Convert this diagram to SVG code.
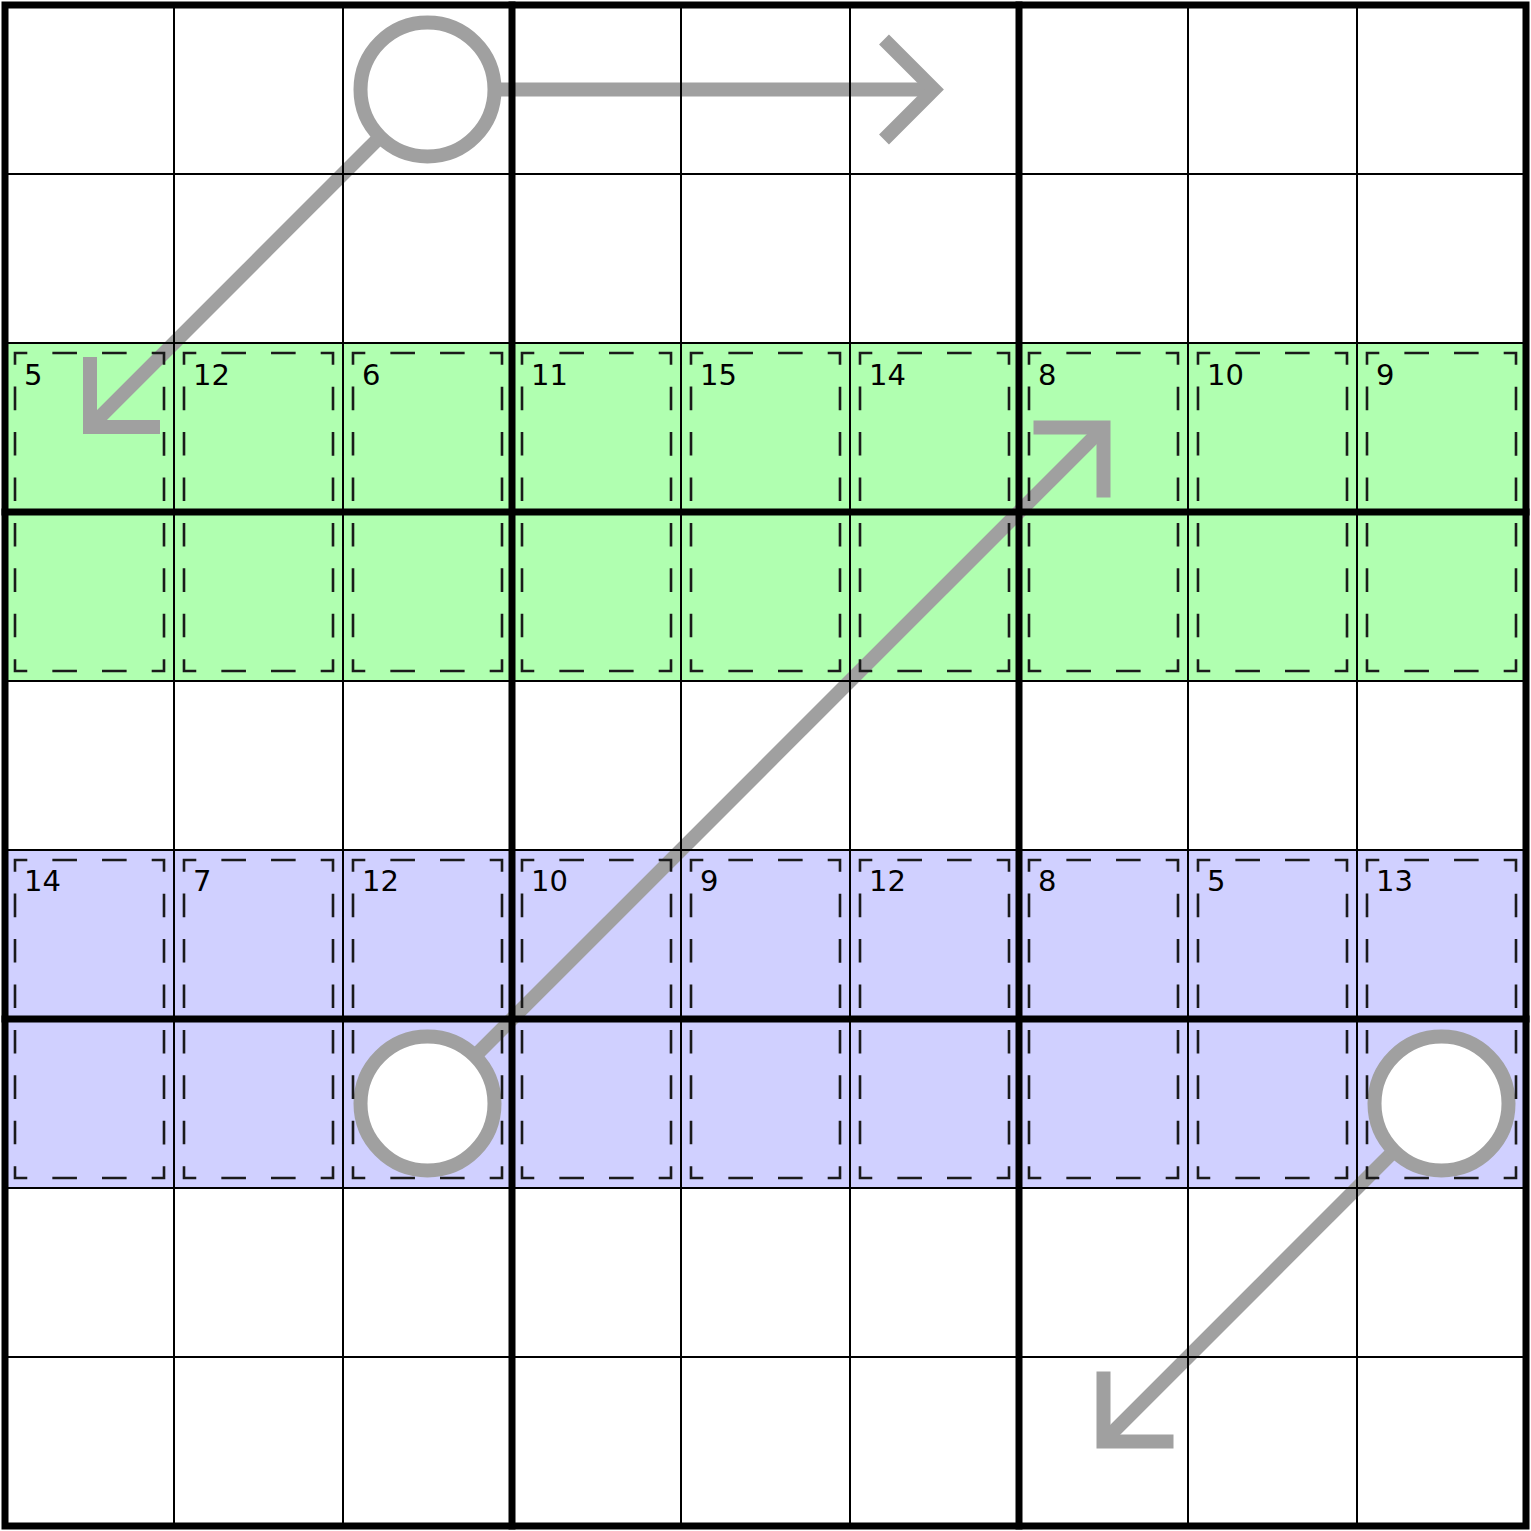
<svg xmlns="http://www.w3.org/2000/svg" width="1531" height="1531" viewBox="0 0 1531 1531">
  <style>
    .thin { stroke: #000; stroke-width: 2; fill: none; }
    .thick { stroke: #000; stroke-width: 7; fill: none; stroke-linecap: square; }
    .arrow { stroke: #a0a0a0; stroke-width: 14; fill: none; stroke-linejoin: miter; stroke-miterlimit: 10; }
    .bulb { stroke: #a0a0a0; stroke-width: 14; fill: #ffffff; }
    .cage { stroke: #1a1a1a; stroke-width: 2.6; fill: none; stroke-linecap: square;
            stroke-dasharray: 11 27.67 22 27.67 22 27.67 21.5 24.43 21 24.43 21 24.43 21 24.43 21 24.43 21 24.43 21 24.43 21.5 27.67 22 27.67 22 27.67 21.5 24.43 21 24.43 21 24.43 21 24.43 21 24.43 21 24.43 21 24.43 10.5 0; }
    .num { font-family: "DejaVu Sans", Verdana, sans-serif; font-size: 29px; fill: #000; }
  </style>
  <defs>
    <path id="cageShape" class="cage" d="M0 0 h149 v318 h-149 Z"/>
  </defs>
  <rect x="0" y="0" width="1531" height="1531" fill="#ffffff"/>

  <g id="fills">
    <rect x="5" y="343" width="1521" height="338" fill="#b0ffb0"/>
    <rect x="5" y="850" width="1521" height="338" fill="#d0d0ff"/>
  </g>

  <g id="connectors">
    <line class="arrow" x1="427.5" y1="89.5" x2="934" y2="89.5"/>
    <polyline class="arrow" points="884,39.5 934,89.5 884,139.5"/>
    <line class="arrow" x1="427.5" y1="89.5" x2="90" y2="427"/>
    <polyline class="arrow" points="90,357 90,427 160,427"/>
    <line class="arrow" x1="427.5" y1="1103.5" x2="1103.5" y2="427.5"/>
    <polyline class="arrow" points="1033.5,427.5 1103.5,427.5 1103.5,497.5"/>
    <line class="arrow" x1="1441.5" y1="1103.5" x2="1103.5" y2="1441.5"/>
    <polyline class="arrow" points="1103.5,1371.5 1103.5,1441.5 1173.5,1441.5"/>
  </g>

  <g id="bulb-top"><circle class="bulb" cx="427.5" cy="89.5" r="67"/></g>
  <g id="bulb-bottom-left"><circle class="bulb" cx="427.5" cy="1103.5" r="67"/></g>
  <g id="bulb-bottom-right"><circle class="bulb" cx="1441.5" cy="1103.5" r="67"/></g>

  <g id="cages-green">
    <use href="#cageShape" x="15" y="353"/>
    <use href="#cageShape" x="184" y="353"/>
    <use href="#cageShape" x="353" y="353"/>
    <use href="#cageShape" x="522" y="353"/>
    <use href="#cageShape" x="691" y="353"/>
    <use href="#cageShape" x="860" y="353"/>
    <use href="#cageShape" x="1029" y="353"/>
    <use href="#cageShape" x="1198" y="353"/>
    <use href="#cageShape" x="1367" y="353"/>
  </g>
  <g id="cages-blue">
    <use href="#cageShape" x="15" y="860"/>
    <use href="#cageShape" x="184" y="860"/>
    <use href="#cageShape" x="353" y="860"/>
    <use href="#cageShape" x="522" y="860"/>
    <use href="#cageShape" x="691" y="860"/>
    <use href="#cageShape" x="860" y="860"/>
    <use href="#cageShape" x="1029" y="860"/>
    <use href="#cageShape" x="1198" y="860"/>
    <use href="#cageShape" x="1367" y="860"/>
  </g>

  <g id="grid-thin">
    <path class="thin" d="M174 5 V1526 M343 5 V1526 M681 5 V1526 M850 5 V1526 M1188 5 V1526 M1357 5 V1526 M5 174 H1526 M5 343 H1526 M5 681 H1526 M5 850 H1526 M5 1188 H1526 M5 1357 H1526"/>
  </g>
  <g id="grid-thick">
    <path class="thick" d="M512 5 V1526 M1019 5 V1526 M5 512 H1526 M5 1019 H1526"/>
    <rect class="thick" x="5" y="5" width="1521" height="1521"/>
  </g>

  <g id="cage-labels-green">
    <text class="num" x="24" y="385">5</text>
    <text class="num" x="193" y="385">12</text>
    <text class="num" x="362" y="385">6</text>
    <text class="num" x="531" y="385">11</text>
    <text class="num" x="700" y="385">15</text>
    <text class="num" x="869" y="385">14</text>
    <text class="num" x="1038" y="385">8</text>
    <text class="num" x="1207" y="385">10</text>
    <text class="num" x="1376" y="385">9</text>
  </g>
  <g id="cage-labels-blue">
    <text class="num" x="24" y="891">14</text>
    <text class="num" x="193" y="891">7</text>
    <text class="num" x="362" y="891">12</text>
    <text class="num" x="531" y="891">10</text>
    <text class="num" x="700" y="891">9</text>
    <text class="num" x="869" y="891">12</text>
    <text class="num" x="1038" y="891">8</text>
    <text class="num" x="1207" y="891">5</text>
    <text class="num" x="1376" y="891">13</text>
  </g>
</svg>
